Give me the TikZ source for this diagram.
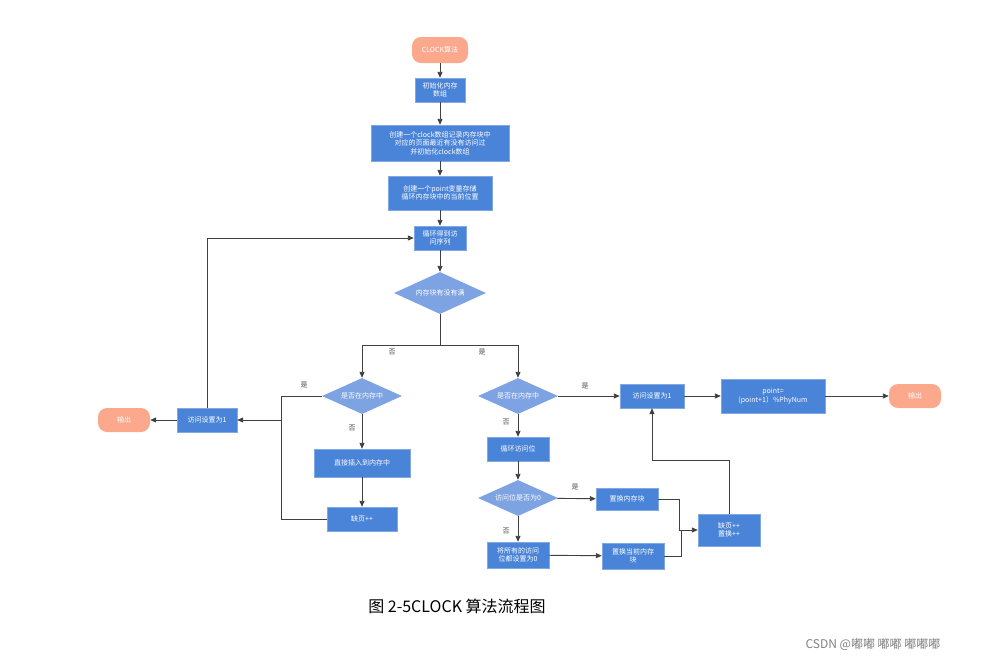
\documentclass[tikz,border=0pt]{standalone}
\usepackage{fontspec}
\newfontfamily\cjk{Noto Sans CJK SC}
\usetikzlibrary{shapes.geometric,arrows.meta}
\definecolor{bx}{HTML}{4A84D8}
\definecolor{dm}{HTML}{7EA3E2}
\definecolor{sal}{HTML}{FBA88D}
\tikzset{
 base/.style={text=white,font=\cjk\fontsize{7}{8.5}\selectfont,align=center,inner sep=1pt},
 bluebox/.style={base,fill=bx,draw=bx!70!white,minimum width=#1},
 term/.style={base,fill=sal,rounded corners=9pt,minimum width=52pt,minimum height=24pt},
 dia/.style={base,fill=dm,diamond,aspect=2.2,inner sep=0pt,minimum width=#1,minimum height=36pt},
 ar/.style={draw=black!75,line width=0.9pt,-{Triangle[length=6pt,width=5pt]}},
 ln/.style={draw=black!75,line width=0.9pt},
 lab/.style={font=\cjk\fontsize{7}{8}\selectfont,text=black!70}
}
\begin{document}
\begin{tikzpicture}[x=1pt,y=-1pt]
\useasboundingbox (0,0) rectangle (1000,665);
\node[term,minimum width=56pt,minimum height=26pt] (s) at (440,50) {CLOCK算法};
\node[bluebox=50pt,minimum height=24pt] (init) at (440,90) {初始化内存\\数组};
\node[bluebox=138pt,minimum height=36pt] (clk) at (440,143) {创建一个clock数组记录内存块中\\对应的页面最近有没有访问过\\并初始化clock数组};
\node[bluebox=104pt,minimum height=34pt] (pt) at (440,193) {创建一个point变量存储\\循环内存块中的当前位置};
\node[bluebox=52pt,minimum height=24pt] (loop) at (440,238) {循环得到访\\问序列};
\node[dia=92pt,minimum height=42pt] (d1) at (440,293) {内存块有没有满};
\node[dia=80pt] (d2) at (362,396) {是否在内存中};
\node[dia=80pt] (d3) at (518,396) {是否在内存中};
\node[bluebox=60pt,minimum height=24pt] (v1) at (207,420) {访问设置为1};
\node[term] (o1) at (124,420) {输出};
\node[bluebox=96pt,minimum height=28pt] (ins) at (362,463) {直接插入到内存中};
\node[bluebox=70pt,minimum height=24pt] (miss) at (362,519) {缺页++};
\node[bluebox=64pt,minimum height=24pt] (v2) at (652,396) {访问设置为1};
\node[bluebox=104pt,minimum height=34pt] (pp) at (773,396) {point=\\(point+1）\%PhyNum};
\node[term] (o2) at (915,396) {输出};
\node[bluebox=62pt,minimum height=24pt] (lv) at (518,449) {循环访问位};
\node[dia=80pt] (d4) at (518,498) {访问位是否为0};
\node[bluebox=62pt,minimum height=22pt] (rep) at (627,499) {置换内存块};
\node[bluebox=62pt,minimum height=26pt] (all) at (518,555) {将所有的访问\\位都设置为0};
\node[bluebox=62pt,minimum height=26pt] (repc) at (633,556) {置换当前内存\\块};
\node[bluebox=62pt,minimum height=32pt] (mr) at (729,530) {缺页++\\置换++};
\coordinate (j) at (440,345);
\draw[ar] (s)--(init); \draw[ar] (init)--(clk); \draw[ar] (clk)--(pt); \draw[ar] (pt)--(loop); \draw[ar] (loop)--(d1);
\draw[ln] (d1.south)--(j);
\draw[ar] (j)-|(d2.north); \draw[ar] (j)-|(d3.north);
\node[lab] at (392,352) {否}; \node[lab] at (482,352) {是};
\draw[ar] (d2)--(ins); \node[lab] at (352,428) {否};
\draw[ar] (ins)--(miss);
\draw[ln] (d2.west)--(281,396)--(281,420); \node[lab] at (304,385) {是};
\draw[ln] (miss.west)--(281,519)--(281,420);
\draw[ar] (281,420)--(v1.east);
\draw[ar] (v1)--(o1);
\draw[ar] (v1.north)|-(loop.west);
\draw[ar] (d3)--(v2); \node[lab] at (585,386) {是};
\draw[ar] (v2)--(pp); \draw[ar] (pp)--(o2);
\draw[ar] (d3)--(lv); \node[lab] at (506,422) {否};
\draw[ar] (lv)--(d4);
\draw[ar] (d4)--(rep); \node[lab] at (575,487) {是};
\draw[ar] (d4)--(all); \node[lab] at (506,531) {否};
\draw[ar] (all)--(repc);
\draw[ln] (rep.east)-|(679,530);
\draw[ln] (repc.east)-|(681,530);
\draw[ar] (679,530)--(mr.west);
\draw[ar] (mr.north)--(729,460)-|(v2.south);
\node[font=\cjk\fontsize{16}{18}\selectfont] at (457,606) {图 2-5CLOCK 算法流程图};
\node[font=\cjk\fontsize{12}{14}\selectfont,text=black!50] at (873,645) {CSDN @嘟嘟 嘟嘟 嘟嘟嘟};
\end{tikzpicture}
\end{document}
